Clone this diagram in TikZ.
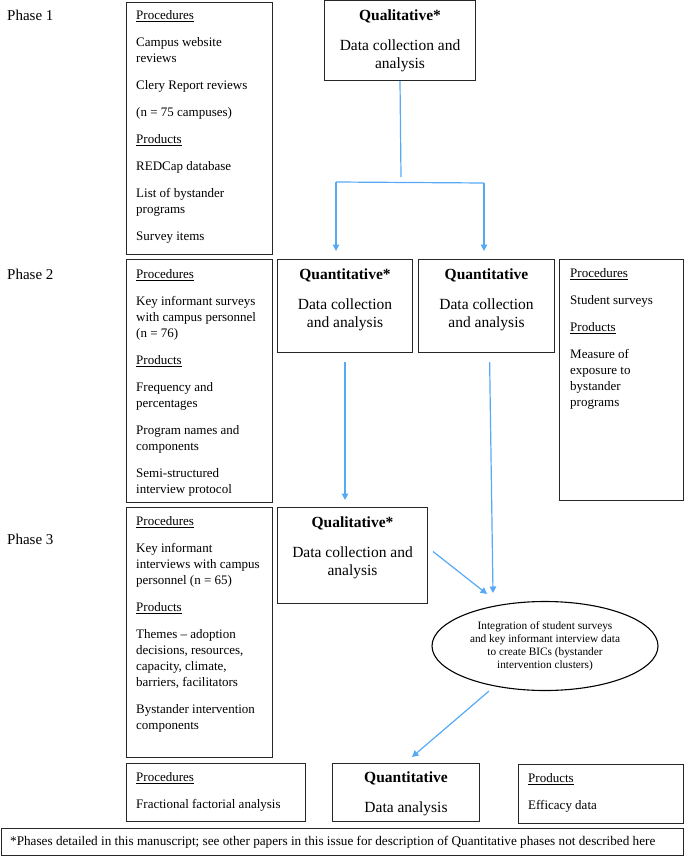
\documentclass[tikz,border=0pt]{standalone}
\usepackage{fontspec}
\setmainfont{Liberation Serif}
\usepackage{xcolor}
\usepackage{tikz}
\usetikzlibrary{shapes.geometric,arrows.meta,positioning}
\definecolor{flowblue}{RGB}{86,170,245}

\begin{document}
\begin{tikzpicture}[
    x=1pt, y=1pt,
    box/.style={rectangle, draw=black!85, line width=1pt, anchor=north west, inner sep=0},
    sidetext/.style={inner sep=0, align=left, font=\fontsize{13}{16}\selectfont},
    midtext/.style={inner sep=0, align=center, font=\fontsize{15.5}{18}\selectfont},
    phase/.style={inner sep=0, anchor=base west, font=\fontsize{15}{18}\selectfont},
    link/.style={draw=flowblue, line width=1.2pt},
    flow/.style={link, -{Triangle[length=6.5pt,width=6.5pt]}}
]
\useasboundingbox (0,0) rectangle (685,-856);

% phase labels
\node[phase] (ph1) at (7,-21) {Phase 1};
\node[phase] (ph2) at (7,-279) {Phase 2};
\node[phase] (ph3) at (7,-544) {Phase 3};

% phase 1
\node[box, minimum width=146pt, minimum height=252pt] (proc1) at (126,-2) {};
\node[sidetext, below right=8pt and 10pt of proc1.north west] (proc1txt) {\underline{Procedures}\\[11pt]
    Campus website\\reviews\\[11pt]
    Clery Report reviews\\[11pt]
    (n = 75 campuses)\\[11pt]
    \underline{Products}\\[11pt]
    REDCap database\\[11pt]
    List of bystander\\programs\\[11pt]
    Survey items};
\node[box, minimum width=151pt, minimum height=80pt] (qual1) at (324,0) {};
\node[midtext, below=10pt of qual1.north] (qual1txt) {\textbf{Qualitative*}\\[12pt]Data collection and\\analysis};

% phase 2
\node[box, minimum width=146pt, minimum height=243pt] (proc2) at (126,-259) {};
\node[sidetext, below right=10pt and 10pt of proc2.north west] (proc2txt) {\underline{Procedures}\\[11pt]
    Key informant surveys\\with campus personnel\\(n = 76)\\[11pt]
    \underline{Products}\\[11pt]
    Frequency and\\percentages\\[11pt]
    Program names and\\components\\[11pt]
    Semi-structured\\interview protocol};
\node[box, minimum width=135pt, minimum height=93pt] (quant2a) at (277,-259) {};
\node[midtext, below=10pt of quant2a.north] (quant2atxt) {\textbf{Quantitative*}\\[12pt]Data collection\\and analysis};
\node[box, minimum width=136pt, minimum height=93pt] (quant2b) at (418,-259) {};
\node[midtext, below=10pt of quant2b.north] (quant2btxt) {\textbf{Quantitative}\\[12pt]Data collection\\and analysis};
\node[box, minimum width=124pt, minimum height=241pt] (proc2r) at (559,-259) {};
\node[sidetext, below right=9pt and 11pt of proc2r.north west] (proc2rtxt) {\underline{Procedures}\\[11pt]
    Student surveys\\[11pt]
    \underline{Products}\\[11pt]
    Measure of\\exposure to\\bystander\\programs};

% phase 3
\node[box, minimum width=146pt, minimum height=250pt] (proc3) at (126,-507) {};
\node[sidetext, below right=9pt and 10pt of proc3.north west] (proc3txt) {\underline{Procedures}\\[11pt]
    Key informant\\interviews with campus\\personnel (n = 65)\\[11pt]
    \underline{Products}\\[11pt]
    Themes -- adoption\\decisions, resources,\\capacity, climate,\\barriers, facilitators\\[11pt]
    Bystander intervention\\components};
\node[box, minimum width=150pt, minimum height=96pt] (qual3) at (277,-507) {};
\node[midtext, below=10pt of qual3.north] (qual3txt) {\textbf{Qualitative*}\\[12pt]Data collection and\\analysis};
\node[ellipse, draw=black, line width=1.1pt, minimum width=226pt, minimum height=89pt, inner sep=0,
    align=center, font=\fontsize{11.3}{13}\selectfont] (integ) at (545,-646)
    {Integration of student surveys\\and key informant interview data\\to create BICs (bystander\\intervention clusters)};

% bottom row
\node[box, minimum width=179pt, minimum height=58pt] (procB) at (126,-763) {};
\node[sidetext, below right=9pt and 10pt of procB.north west] (procBtxt) {\underline{Procedures}\\[11pt]Fractional factorial analysis};
\node[box, minimum width=147pt, minimum height=58pt] (quantB) at (332,-763) {};
\node[midtext, below=9pt of quantB.north] (quantBtxt) {\textbf{Quantitative}\\[12pt]Data analysis};
\node[box, minimum width=165pt, minimum height=59pt] (prodB) at (518,-764) {};
\node[sidetext, below right=9pt and 10pt of prodB.north west] (prodBtxt) {\underline{Products}\\[11pt]Efficacy data};

\node[box, minimum width=682pt, minimum height=27pt] (note) at (1,-828) {};
\node[inner sep=0, anchor=west, font=\fontsize{13.2}{15}\selectfont] (notetxt) at ([xshift=9pt]note.west)
    {*Phases detailed in this manuscript; see other papers in this issue for description of Quantitative phases not described here};

% connectors
\coordinate (split) at (401,-177);
\coordinate (splitL) at (336,-182);
\coordinate (splitR) at (484,-183);
\coordinate (meet) at (493,-593);
\coordinate (meet2) at (487,-594);

\draw[link] (qual1.south) -- (split);
\draw[link] (splitL) -- (splitR);
\draw[flow, shorten >=8pt] (splitL) -- (splitL |- quant2a.north);
\draw[flow, shorten >=8pt] (splitR) -- (splitR |- quant2b.north);
\draw[flow, shorten <=9pt, shorten >=7pt] (quant2a.south) -- (quant2a.south |- qual3.north);
\draw[flow, shorten <=9pt] ([xshift=3pt]quant2b.south) -- (meet);
\draw[flow] ([shift={(5pt,4pt)}]qual3.east) -- (meet2);
\draw[flow] ([xshift=-56pt]integ.south) -- ([shift={(6pt,6pt)}]quantB.north);
\end{tikzpicture}
\end{document}
